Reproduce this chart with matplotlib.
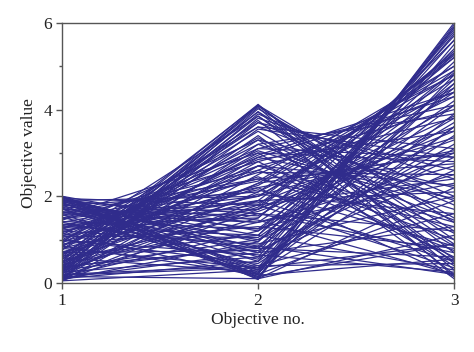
import matplotlib
matplotlib.use("Agg")
import matplotlib.pyplot as plt
from matplotlib.ticker import MultipleLocator

# Eje x: numero de objetivo
objectives = [1, 2, 3]

# Valores de cada solucion (una linea por solucion), leidos a ojo de la figura
obj1_vals = [
    0.60, 0.50, 0.40, 0.30, 0.20, 0.10, 0.55, 0.15, 0.35, 0.08, 0.45, 0.25,
    2.00, 1.96, 1.92, 1.87, 1.82, 1.76, 1.70, 1.63, 1.56, 1.48, 1.40, 1.32,
    1.24, 1.16, 1.08, 1.00, 0.92, 0.84, 0.76,
    1.98, 1.94, 1.90, 1.86, 1.99, 1.80, 1.93, 1.72, 1.84,
    0.05, 0.10, 0.12, 0.08, 0.20, 0.25, 0.15, 0.30, 0.18, 0.22, 0.28, 0.06,
    0.35, 0.40, 0.12, 0.32, 0.45, 0.50, 0.65, 0.70, 0.55, 0.80,
    0.90, 1.00, 1.10, 1.20, 1.30, 1.40, 1.50, 1.60, 1.70, 1.78, 1.88, 1.95,
    2.00, 1.55, 1.25, 0.95, 0.70, 0.85, 1.05, 1.15, 1.35, 1.45, 0.62, 0.78,
    1.62, 1.12, 0.98, 1.75, 0.42, 1.28, 0.58, 0.15, 1.90, 0.05, 0.68, 1.52,
    0.88, 0.38,
    0.12, 0.30, 0.48, 0.65, 0.22, 0.85, 0.10, 1.18, 1.42, 1.65, 1.85, 1.97,
    1.58, 0.40, 0.95, 0.28, 0.72, 1.08, 1.35, 0.50, 0.18, 1.22, 0.60, 1.72,
    0.35, 0.80, 1.48, 0.25, 1.92, 0.95,
]
obj2_vals = [
    4.10, 4.12, 4.08, 4.05, 4.10, 4.02, 3.95, 3.90, 3.85, 3.80, 3.75, 3.70,
    0.60, 0.80, 0.95, 1.10, 1.25, 1.40, 1.55, 1.70, 1.85, 2.00, 2.20, 2.40,
    2.55, 2.70, 2.90, 3.05, 3.20, 3.35, 3.50,
    0.08, 0.12, 0.20, 0.15, 0.25, 0.10, 0.30, 0.18, 0.35,
    0.30, 0.50, 0.70, 0.95, 0.40, 0.60, 1.20, 0.85, 1.50, 2.10, 1.80, 2.50,
    1.00, 2.80, 3.20, 3.40, 2.30, 1.60, 2.60, 0.75, 3.00, 1.90,
    1.30, 0.45, 1.70, 0.90, 1.10, 0.55, 2.60, 1.40, 0.40, 2.10, 1.60, 1.80,
    1.20, 3.00, 3.30, 3.60, 2.20, 0.20, 2.00, 0.15, 1.50, 2.80, 1.10, 3.70,
    2.40, 3.10, 0.65, 0.70, 1.40, 1.90, 0.25, 0.10, 2.00, 1.70, 2.95, 0.30,
    2.45, 0.80,
    2.70, 3.10, 3.30, 3.60, 2.30, 2.85, 1.90, 2.15, 1.25, 0.85, 0.50, 0.70,
    0.22, 1.75, 2.25, 3.55, 1.65, 1.05, 0.80, 2.05, 0.35, 1.80, 2.70, 1.00,
    3.95, 0.35, 2.35, 2.90, 1.45, 3.85,
]
obj3_vals = [
    1.40, 0.30, 1.00, 0.15, 0.70, 1.50, 0.45, 2.00, 0.90, 2.40, 0.20, 1.80,
    5.60, 5.30, 5.10, 4.85, 4.60, 4.40, 4.10, 3.85, 3.60, 3.35, 3.05, 2.75,
    2.50, 2.25, 1.95, 1.70, 1.45, 1.15, 0.85,
    6.00, 5.90, 5.95, 4.80, 3.10, 2.20, 5.75, 0.55, 5.85,
    4.60, 5.80, 3.20, 5.40, 0.45, 2.60, 4.90, 0.20, 5.20, 4.30, 0.35, 4.80,
    3.70, 0.60, 3.90, 0.10, 4.90, 1.20, 4.40, 2.90, 2.80, 5.20,
    0.80, 3.40, 5.30, 2.00, 0.30, 4.70, 1.00, 2.70, 1.60, 5.00, 0.70, 2.40,
    3.80, 0.40, 2.20, 3.10, 0.15, 1.90, 4.50, 0.90, 5.35, 4.00, 5.60, 2.60,
    1.30, 4.10, 0.25, 5.70, 2.30, 0.50, 5.90, 1.10, 4.70, 3.50, 4.40, 3.60,
    0.75, 4.10,
    1.40, 2.90, 0.50, 1.90, 3.00, 3.50, 2.10, 0.85, 2.50, 4.50, 3.60, 1.30,
    5.50, 5.30, 4.80, 2.90, 3.30, 4.20, 0.60, 1.60, 3.90, 5.25, 3.80, 3.00,
    1.20, 0.90, 5.00, 4.30, 0.20, 0.55,
]

color_linea = "#302c8c"

plt.rcParams["font.family"] = ["Liberation Serif", "DejaVu Serif"]

fig = plt.figure(figsize=(4.74, 3.52), dpi=100)
ax = fig.add_axes([0.131, 0.196, 0.827, 0.739])

for a, b, c in zip(obj1_vals, obj2_vals, obj3_vals):
    ax.plot(objectives, [a, b, c], color=color_linea, linewidth=0.9)

ax.set_xlim(1, 3)
ax.set_ylim(0, 6)
ax.set_xticks(objectives)
ax.yaxis.set_major_locator(MultipleLocator(2))
ax.yaxis.set_minor_locator(MultipleLocator(1))

for s in ax.spines.values():
    s.set_color("#555555")
    s.set_linewidth(1.0)

ax.tick_params(axis="both", which="major", direction="out", length=4,
               width=1, color="#555555", labelsize=12.5, labelcolor="#222222")
ax.tick_params(axis="y", which="minor", direction="out", length=2.5,
               width=1, color="#555555")
ax.tick_params(axis="x", which="major", pad=3)
ax.tick_params(axis="y", which="major", pad=3)

ax.set_xlabel("Objective no.", fontsize=12.5, color="#222222", labelpad=2)
ax.set_ylabel("Objective value", fontsize=12.5, color="#222222", labelpad=5)

fig.savefig("out.png", dpi=100)
